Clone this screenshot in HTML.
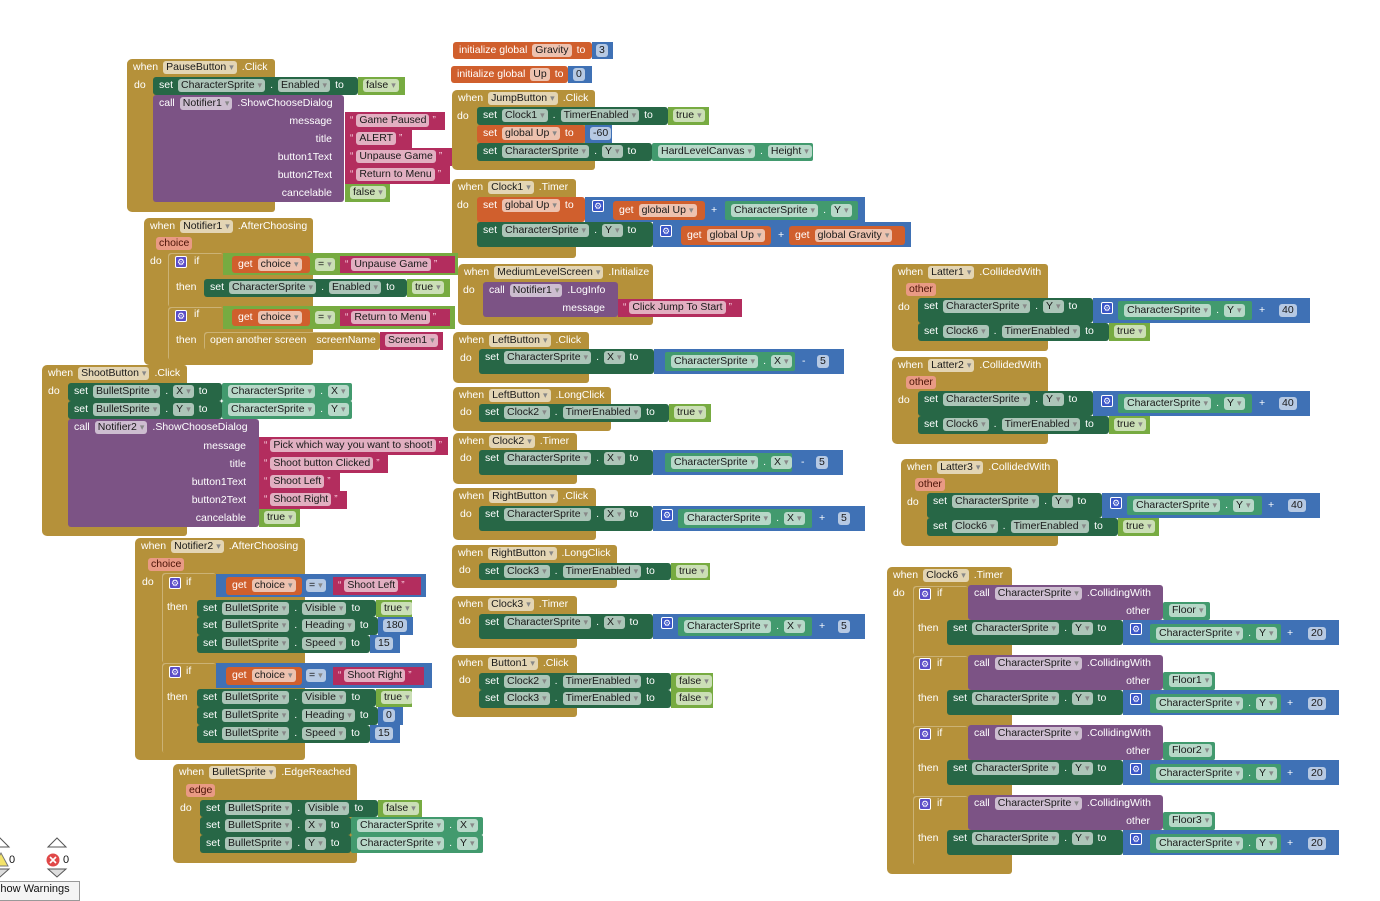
<!DOCTYPE html>
<html><head><meta charset="utf-8">
<style>
body{margin:0;width:1380px;height:892px;position:relative;overflow:hidden;background:#fff;font-family:"Liberation Sans",Arial,sans-serif;font-size:10.5px;color:#fff}
div{position:absolute;box-sizing:border-box}
.k{display:flex;align-items:flex-start;padding:2px 0 0 6px;gap:5px;white-space:nowrap;line-height:13px}
.t{line-height:13px;white-space:nowrap}
.a{text-align:right;line-height:18px;white-space:nowrap}
i{font-style:normal;background:rgba(255,255,255,.62);color:#1a1a1a;border-radius:3px;padding:0 3px;height:13px;line-height:13px;display:inline-block}
i.d::after{content:"\25BE";color:#888;font-size:9px;margin-left:3px}
i.v{background:#e99a84;color:#4a1206}
b{font-weight:normal;color:#f5c9d9;font-size:10px}
.g{background:#b5913a;border-radius:5px 3px 3px 5px}
.S{background:#276746;border-radius:3px}
.C{background:#429a6e;border-radius:2px}
.T{background:#b32d5e;gap:3px;padding-left:5px}
.L{background:#77ab41;padding-left:5px}
.M{background:#3f71b5;padding-left:5px}
.V{background:#d05f2d;border-radius:3px}
.P{background:#7c5385;border-radius:3px}
.C.k{padding-left:6px}
.f{background:#b5913a;border-radius:3px;box-shadow:inset 1px 1px 0 rgba(255,255,255,.3)}
.gr{width:12px;height:12px;border:1px solid #fff;border-radius:2px;background:#3a55c8;color:#fff;font-size:9px;line-height:10px;text-align:center}
.gi{background:#5a4dc8}
</style></head><body>

<!-- PauseButton.Click -->
<div class="g" style="left:127px;top:59px;width:148px;height:153px"></div>
<div class="k" style="left:127px;top:59px;height:18px">when <i class="d">PauseButton</i> .Click</div>
<div class="t" style="left:134px;top:79px">do</div>
<div class="k S" style="left:153px;top:77px;width:205px;height:18px">set <i class="d">CharacterSprite</i> . <i class="d">Enabled</i> to</div>
<div class="k L" style="left:358px;top:77px;width:47px;height:18px"><i class="d">false</i></div>
<div class="P" style="left:153px;top:95px;width:191px;height:107px"></div>
<div class="k" style="left:153px;top:95px;height:18px">call <i class="d">Notifier1</i> .ShowChooseDialog</div>
<div class="a" style="left:153px;top:112px;width:179px">message<br>title<br>button1Text<br>button2Text<br>cancelable</div>
<div class="k T" style="left:345px;top:112px;width:100px;height:18px"><b>“</b><i>Game Paused</i><b>”</b></div>
<div class="k T" style="left:345px;top:130px;width:67px;height:18px"><b>“</b><i>ALERT</i><b>”</b></div>
<div class="k T" style="left:345px;top:148px;width:107px;height:18px"><b>“</b><i>Unpause Game</i><b>”</b></div>
<div class="k T" style="left:345px;top:166px;width:105px;height:18px"><b>“</b><i>Return to Menu</i><b>”</b></div>
<div class="k L" style="left:345px;top:184px;width:45px;height:18px"><i class="d">false</i></div>

<!-- globals -->
<div class="k V" style="left:453px;top:42px;width:139px;height:17px">initialize global <i>Gravity</i> to</div>
<div class="k M" style="left:592px;top:42px;width:21px;height:17px;padding-left:4px"><i>3</i></div>
<div class="k V" style="left:451px;top:66px;width:117px;height:17px">initialize global <i>Up</i> to</div>
<div class="k M" style="left:568px;top:66px;width:24px;height:17px"><i>0</i></div>

<!-- JumpButton.Click -->
<div class="g" style="left:452px;top:90px;width:143px;height:80px"></div>
<div class="k" style="left:452px;top:90px;height:18px">when <i class="d">JumpButton</i> .Click</div>
<div class="t" style="left:457px;top:110px">do</div>
<div class="k S" style="left:477px;top:107px;width:191px;height:18px">set <i class="d">Clock1</i> . <i class="d">TimerEnabled</i> to</div>
<div class="k L" style="left:668px;top:107px;width:41px;height:18px"><i class="d">true</i></div>
<div class="k V" style="left:477px;top:125px;width:108px;height:18px">set <i class="d">global Up</i> to</div>
<div class="k M" style="left:585px;top:125px;width:27px;height:18px"><i>-60</i></div>
<div class="k S" style="left:477px;top:143px;width:175px;height:18px">set <i class="d">CharacterSprite</i> . <i class="d">Y</i> to</div>
<div class="k C" style="left:652px;top:143px;width:161px;height:18px"><i class="d">HardLevelCanvas</i> . <i class="d">Height</i></div>

<!-- Clock1.Timer -->
<div class="g" style="left:452px;top:179px;width:124px;height:79px"></div>
<div class="k" style="left:452px;top:179px;height:18px">when <i class="d">Clock1</i> .Timer</div>
<div class="t" style="left:457px;top:199px">do</div>
<div class="k V" style="left:477px;top:197px;width:108px;height:25px">set <i class="d">global Up</i> to</div>
<div class="M" style="left:585px;top:197px;width:280px;height:25px"></div>
<div class="gr" style="left:592px;top:200px">⚙</div>
<div class="k V" style="left:613px;top:201px;width:92px;height:19px;padding-top:3px">get <i class="d">global Up</i></div>
<div class="t" style="left:711px;top:204px">+</div>
<div class="k C" style="left:725px;top:201px;width:133px;height:19px;padding-top:3px"><i class="d">CharacterSprite</i> . <i class="d">Y</i></div>
<div class="k S" style="left:477px;top:222px;width:176px;height:25px">set <i class="d">CharacterSprite</i> . <i class="d">Y</i> to</div>
<div class="M" style="left:653px;top:222px;width:258px;height:25px"></div>
<div class="gr" style="left:660px;top:225px">⚙</div>
<div class="k V" style="left:681px;top:226px;width:90px;height:19px;padding-top:3px">get <i class="d">global Up</i></div>
<div class="t" style="left:778px;top:229px">+</div>
<div class="k V" style="left:789px;top:226px;width:116px;height:19px;padding-top:3px">get <i class="d">global Gravity</i></div>

<!-- MediumLevelScreen.Initialize -->
<div class="g" style="left:458px;top:264px;width:195px;height:61px"></div>
<div class="k" style="left:458px;top:264px;height:18px">when <i class="d">MediumLevelScreen</i> .Initialize</div>
<div class="t" style="left:463px;top:284px">do</div>
<div class="P" style="left:483px;top:282px;width:135px;height:35px"></div>
<div class="k" style="left:483px;top:282px;height:18px">call <i class="d">Notifier1</i> .LogInfo</div>
<div class="a" style="left:483px;top:299px;width:122px">message</div>
<div class="k T" style="left:618px;top:299px;width:124px;height:18px"><b>“</b><i>Click Jump To Start</i><b>”</b></div>

<!-- LeftButton.Click -->
<div class="g" style="left:453px;top:332px;width:136px;height:51px"></div>
<div class="k" style="left:453px;top:332px;height:17px">when <i class="d">LeftButton</i> .Click</div>
<div class="t" style="left:460px;top:352px">do</div>
<div class="k S" style="left:479px;top:349px;width:175px;height:25px">set <i class="d">CharacterSprite</i> . <i class="d">X</i> to</div>
<div class="M" style="left:654px;top:349px;width:190px;height:25px"></div>
<div class="k C" style="left:665px;top:352px;width:130px;height:19px;padding-top:3px"><i class="d">CharacterSprite</i> . <i class="d">X</i></div>
<div class="t" style="left:802px;top:355px">-</div>
<div class="k" style="left:811px;top:352px;height:19px;padding-top:3px"><i>5</i></div>

<!-- LeftButton.LongClick -->
<div class="g" style="left:453px;top:387px;width:158px;height:44px"></div>
<div class="k" style="left:453px;top:387px;height:17px">when <i class="d">LeftButton</i> .LongClick</div>
<div class="t" style="left:460px;top:406px">do</div>
<div class="k S" style="left:479px;top:404px;width:190px;height:18px">set <i class="d">Clock2</i> . <i class="d">TimerEnabled</i> to</div>
<div class="k L" style="left:669px;top:404px;width:42px;height:18px"><i class="d">true</i></div>

<!-- Clock2.Timer -->
<div class="g" style="left:453px;top:433px;width:124px;height:51px"></div>
<div class="k" style="left:453px;top:433px;height:17px">when <i class="d">Clock2</i> .Timer</div>
<div class="t" style="left:460px;top:452px">do</div>
<div class="k S" style="left:479px;top:450px;width:174px;height:25px">set <i class="d">CharacterSprite</i> . <i class="d">X</i> to</div>
<div class="M" style="left:653px;top:450px;width:190px;height:25px"></div>
<div class="k C" style="left:665px;top:453px;width:127px;height:19px;padding-top:3px"><i class="d">CharacterSprite</i> . <i class="d">X</i></div>
<div class="t" style="left:801px;top:456px">-</div>
<div class="k" style="left:810px;top:453px;height:19px;padding-top:3px"><i>5</i></div>

<!-- RightButton.Click -->
<div class="g" style="left:453px;top:488px;width:143px;height:52px"></div>
<div class="k" style="left:453px;top:488px;height:17px">when <i class="d">RightButton</i> .Click</div>
<div class="t" style="left:460px;top:508px">do</div>
<div class="k S" style="left:479px;top:506px;width:174px;height:25px">set <i class="d">CharacterSprite</i> . <i class="d">X</i> to</div>
<div class="M" style="left:653px;top:506px;width:212px;height:25px"></div>
<div class="gr" style="left:661px;top:509px">⚙</div>
<div class="k C" style="left:678px;top:509px;width:134px;height:19px;padding-top:3px"><i class="d">CharacterSprite</i> . <i class="d">X</i></div>
<div class="t" style="left:819px;top:512px">+</div>
<div class="k" style="left:832px;top:509px;height:19px;padding-top:3px"><i>5</i></div>

<!-- RightButton.LongClick -->
<div class="g" style="left:452px;top:545px;width:165px;height:43px"></div>
<div class="k" style="left:452px;top:545px;height:17px">when <i class="d">RightButton</i> .LongClick</div>
<div class="t" style="left:459px;top:564px">do</div>
<div class="k S" style="left:479px;top:563px;width:192px;height:17px">set <i class="d">Clock3</i> . <i class="d">TimerEnabled</i> to</div>
<div class="k L" style="left:671px;top:563px;width:39px;height:17px"><i class="d">true</i></div>

<!-- Clock3.Timer -->
<div class="g" style="left:452px;top:596px;width:125px;height:52px"></div>
<div class="k" style="left:452px;top:596px;height:17px">when <i class="d">Clock3</i> .Timer</div>
<div class="t" style="left:459px;top:615px">do</div>
<div class="k S" style="left:479px;top:614px;width:174px;height:25px">set <i class="d">CharacterSprite</i> . <i class="d">X</i> to</div>
<div class="M" style="left:653px;top:614px;width:212px;height:25px"></div>
<div class="gr" style="left:661px;top:617px">⚙</div>
<div class="k C" style="left:678px;top:617px;width:134px;height:19px;padding-top:3px"><i class="d">CharacterSprite</i> . <i class="d">X</i></div>
<div class="t" style="left:819px;top:620px">+</div>
<div class="k" style="left:832px;top:617px;height:19px;padding-top:3px"><i>5</i></div>

<!-- Button1.Click -->
<div class="g" style="left:452px;top:655px;width:125px;height:62px"></div>
<div class="k" style="left:452px;top:655px;height:18px">when <i class="d">Button1</i> .Click</div>
<div class="t" style="left:459px;top:674px">do</div>
<div class="k S" style="left:479px;top:673px;width:192px;height:17px">set <i class="d">Clock2</i> . <i class="d">TimerEnabled</i> to</div>
<div class="k L" style="left:671px;top:673px;width:42px;height:17px"><i class="d">false</i></div>
<div class="k S" style="left:479px;top:690px;width:192px;height:18px">set <i class="d">Clock3</i> . <i class="d">TimerEnabled</i> to</div>
<div class="k L" style="left:671px;top:690px;width:42px;height:18px"><i class="d">false</i></div>

<!-- Notifier1.AfterChoosing -->
<div class="g" style="left:144px;top:218px;width:169px;height:147px"></div>
<div class="k" style="left:144px;top:218px;height:18px">when <i class="d">Notifier1</i> .AfterChoosing</div>
<div class="k" style="left:150px;top:235px;height:17px"><i class="v">choice</i></div>
<div class="t" style="left:150px;top:255px">do</div>
<div class="f" style="left:168px;top:253px;width:55px;height:54px"></div>
<div class="gr gi" style="left:175px;top:256px">⚙</div>
<div class="t" style="left:194px;top:255px">if</div>
<div class="t" style="left:176px;top:281px">then</div>
<div class="L" style="left:223px;top:253px;width:235px;height:22px"></div>
<div class="k V" style="left:232px;top:256px;width:78px;height:17px">get <i class="d">choice</i></div>
<div class="k" style="left:309px;top:256px;height:17px"><i class="d">=</i></div>
<div class="k T" style="left:340px;top:256px;width:115px;height:17px"><b>“</b><i>Unpause Game</i><b>”</b></div>
<div class="k S" style="left:204px;top:279px;width:203px;height:18px">set <i class="d">CharacterSprite</i> . <i class="d">Enabled</i> to</div>
<div class="k L" style="left:407px;top:279px;width:43px;height:18px"><i class="d">true</i></div>
<div class="f" style="left:168px;top:307px;width:55px;height:53px"></div>
<div class="gr gi" style="left:175px;top:310px">⚙</div>
<div class="t" style="left:194px;top:308px">if</div>
<div class="t" style="left:176px;top:334px">then</div>
<div class="L" style="left:223px;top:306px;width:232px;height:23px"></div>
<div class="k V" style="left:232px;top:309px;width:78px;height:17px">get <i class="d">choice</i></div>
<div class="k" style="left:309px;top:309px;height:17px"><i class="d">=</i></div>
<div class="k T" style="left:340px;top:309px;width:110px;height:17px"><b>“</b><i>Return to Menu</i><b>”</b></div>
<div class="k f" style="left:204px;top:332px;width:176px;height:18px;gap:10px">open another screen <span>screenName</span></div>
<div class="k T" style="left:380px;top:332px;width:63px;height:18px"><i class="d">Screen1</i></div>

<!-- ShootButton.Click -->
<div class="g" style="left:42px;top:365px;width:145px;height:171px"></div>
<div class="k" style="left:42px;top:365px;height:18px">when <i class="d">ShootButton</i> .Click</div>
<div class="t" style="left:48px;top:385px">do</div>
<div class="k S" style="left:68px;top:383px;width:154px;height:18px">set <i class="d">BulletSprite</i> . <i class="d">X</i> to</div>
<div class="k C" style="left:222px;top:383px;width:130px;height:18px"><i class="d">CharacterSprite</i> . <i class="d">X</i></div>
<div class="k S" style="left:68px;top:401px;width:154px;height:18px">set <i class="d">BulletSprite</i> . <i class="d">Y</i> to</div>
<div class="k C" style="left:222px;top:401px;width:130px;height:18px"><i class="d">CharacterSprite</i> . <i class="d">Y</i></div>
<div class="P" style="left:68px;top:419px;width:191px;height:108px"></div>
<div class="k" style="left:68px;top:419px;height:18px">call <i class="d">Notifier2</i> .ShowChooseDialog</div>
<div class="a" style="left:68px;top:437px;width:178px">message<br>title<br>button1Text<br>button2Text<br>cancelable</div>
<div class="k T" style="left:259px;top:437px;width:189px;height:18px"><b>“</b><i>Pick which way you want to shoot!</i><b>”</b></div>
<div class="k T" style="left:259px;top:455px;width:129px;height:18px"><b>“</b><i>Shoot button Clicked</i><b>”</b></div>
<div class="k T" style="left:259px;top:473px;width:81px;height:18px"><b>“</b><i>Shoot Left</i><b>”</b></div>
<div class="k T" style="left:259px;top:491px;width:88px;height:18px"><b>“</b><i>Shoot Right</i><b>”</b></div>
<div class="k L" style="left:259px;top:509px;width:41px;height:18px"><i class="d">true</i></div>

<!-- Notifier2.AfterChoosing -->
<div class="g" style="left:135px;top:538px;width:170px;height:222px"></div>
<div class="k" style="left:135px;top:538px;height:18px">when <i class="d">Notifier2</i> .AfterChoosing</div>
<div class="k" style="left:142px;top:556px;height:17px"><i class="v">choice</i></div>
<div class="t" style="left:142px;top:576px">do</div>
<div class="f" style="left:162px;top:573px;width:54px;height:90px"></div>
<div class="gr gi" style="left:169px;top:577px">⚙</div>
<div class="t" style="left:186px;top:576px">if</div>
<div class="t" style="left:167px;top:601px">then</div>
<div class="M" style="left:216px;top:574px;width:210px;height:23px"></div>
<div class="k V" style="left:226px;top:577px;width:76px;height:18px">get <i class="d">choice</i></div>
<div class="k" style="left:300px;top:577px;height:18px"><i class="d">=</i></div>
<div class="k T" style="left:333px;top:577px;width:88px;height:18px"><b>“</b><i>Shoot Left</i><b>”</b></div>
<div class="k S" style="left:197px;top:600px;width:179px;height:17px">set <i class="d">BulletSprite</i> . <i class="d">Visible</i> to</div>
<div class="k L" style="left:376px;top:600px;width:36px;height:17px"><i class="d">true</i></div>
<div class="k S" style="left:197px;top:617px;width:181px;height:18px">set <i class="d">BulletSprite</i> . <i class="d">Heading</i> to</div>
<div class="k M" style="left:378px;top:617px;width:35px;height:18px"><i>180</i></div>
<div class="k S" style="left:197px;top:635px;width:173px;height:18px">set <i class="d">BulletSprite</i> . <i class="d">Speed</i> to</div>
<div class="k M" style="left:370px;top:635px;width:30px;height:18px"><i>15</i></div>
<div class="f" style="left:162px;top:663px;width:54px;height:90px"></div>
<div class="gr gi" style="left:169px;top:666px">⚙</div>
<div class="t" style="left:186px;top:665px">if</div>
<div class="t" style="left:167px;top:691px">then</div>
<div class="M" style="left:216px;top:663px;width:216px;height:25px"></div>
<div class="k V" style="left:226px;top:667px;width:76px;height:18px">get <i class="d">choice</i></div>
<div class="k" style="left:300px;top:667px;height:18px"><i class="d">=</i></div>
<div class="k T" style="left:333px;top:667px;width:91px;height:18px"><b>“</b><i>Shoot Right</i><b>”</b></div>
<div class="k S" style="left:197px;top:689px;width:179px;height:18px">set <i class="d">BulletSprite</i> . <i class="d">Visible</i> to</div>
<div class="k L" style="left:376px;top:689px;width:36px;height:18px"><i class="d">true</i></div>
<div class="k S" style="left:197px;top:707px;width:181px;height:18px">set <i class="d">BulletSprite</i> . <i class="d">Heading</i> to</div>
<div class="k M" style="left:378px;top:707px;width:25px;height:18px"><i>0</i></div>
<div class="k S" style="left:197px;top:725px;width:173px;height:18px">set <i class="d">BulletSprite</i> . <i class="d">Speed</i> to</div>
<div class="k M" style="left:370px;top:725px;width:30px;height:18px"><i>15</i></div>

<!-- BulletSprite.EdgeReached -->
<div class="g" style="left:173px;top:764px;width:184px;height:99px"></div>
<div class="k" style="left:173px;top:764px;height:18px">when <i class="d">BulletSprite</i> .EdgeReached</div>
<div class="k" style="left:180px;top:782px;height:17px"><i class="v">edge</i></div>
<div class="t" style="left:180px;top:802px">do</div>
<div class="k S" style="left:200px;top:800px;width:178px;height:17px">set <i class="d">BulletSprite</i> . <i class="d">Visible</i> to</div>
<div class="k L" style="left:378px;top:800px;width:44px;height:17px"><i class="d">false</i></div>
<div class="k S" style="left:200px;top:817px;width:151px;height:18px">set <i class="d">BulletSprite</i> . <i class="d">X</i> to</div>
<div class="k C" style="left:351px;top:817px;width:132px;height:18px"><i class="d">CharacterSprite</i> . <i class="d">X</i></div>
<div class="k S" style="left:200px;top:835px;width:151px;height:18px">set <i class="d">BulletSprite</i> . <i class="d">Y</i> to</div>
<div class="k C" style="left:351px;top:835px;width:132px;height:18px"><i class="d">CharacterSprite</i> . <i class="d">Y</i></div>

<!-- Latter1 -->
<div class="g" style="left:892px;top:264px;width:156px;height:87px"></div>
<div class="k" style="left:892px;top:264px;height:18px">when <i class="d">Latter1</i> .CollidedWith</div>
<div class="k" style="left:900px;top:281px;height:17px"><i class="v">other</i></div>
<div class="t" style="left:898px;top:301px">do</div>
<div class="k S" style="left:918px;top:298px;width:175px;height:25px">set <i class="d">CharacterSprite</i> . <i class="d">Y</i> to</div>
<div class="M" style="left:1093px;top:298px;width:217px;height:25px"></div>
<div class="gr" style="left:1101px;top:302px">⚙</div>
<div class="k C" style="left:1118px;top:301px;width:134px;height:19px;padding-top:3px"><i class="d">CharacterSprite</i> . <i class="d">Y</i></div>
<div class="t" style="left:1259px;top:304px">+</div>
<div class="k" style="left:1273px;top:301px;height:19px;padding-top:3px"><i>40</i></div>
<div class="k S" style="left:918px;top:323px;width:191px;height:18px">set <i class="d">Clock6</i> . <i class="d">TimerEnabled</i> to</div>
<div class="k L" style="left:1109px;top:323px;width:41px;height:18px"><i class="d">true</i></div>

<!-- Latter2 -->
<div class="g" style="left:892px;top:357px;width:156px;height:87px"></div>
<div class="k" style="left:892px;top:357px;height:18px">when <i class="d">Latter2</i> .CollidedWith</div>
<div class="k" style="left:900px;top:374px;height:17px"><i class="v">other</i></div>
<div class="t" style="left:898px;top:394px">do</div>
<div class="k S" style="left:918px;top:391px;width:175px;height:25px">set <i class="d">CharacterSprite</i> . <i class="d">Y</i> to</div>
<div class="M" style="left:1093px;top:391px;width:217px;height:25px"></div>
<div class="gr" style="left:1101px;top:395px">⚙</div>
<div class="k C" style="left:1118px;top:394px;width:134px;height:19px;padding-top:3px"><i class="d">CharacterSprite</i> . <i class="d">Y</i></div>
<div class="t" style="left:1259px;top:397px">+</div>
<div class="k" style="left:1273px;top:394px;height:19px;padding-top:3px"><i>40</i></div>
<div class="k S" style="left:918px;top:416px;width:191px;height:18px">set <i class="d">Clock6</i> . <i class="d">TimerEnabled</i> to</div>
<div class="k L" style="left:1109px;top:416px;width:41px;height:18px"><i class="d">true</i></div>

<!-- Latter3 -->
<div class="g" style="left:901px;top:459px;width:157px;height:87px"></div>
<div class="k" style="left:901px;top:459px;height:18px">when <i class="d">Latter3</i> .CollidedWith</div>
<div class="k" style="left:909px;top:476px;height:17px"><i class="v">other</i></div>
<div class="t" style="left:907px;top:496px">do</div>
<div class="k S" style="left:927px;top:493px;width:175px;height:25px">set <i class="d">CharacterSprite</i> . <i class="d">Y</i> to</div>
<div class="M" style="left:1102px;top:493px;width:218px;height:25px"></div>
<div class="gr" style="left:1110px;top:497px">⚙</div>
<div class="k C" style="left:1127px;top:496px;width:135px;height:19px;padding-top:3px"><i class="d">CharacterSprite</i> . <i class="d">Y</i></div>
<div class="t" style="left:1268px;top:499px">+</div>
<div class="k" style="left:1282px;top:496px;height:19px;padding-top:3px"><i>40</i></div>
<div class="k S" style="left:927px;top:518px;width:191px;height:18px">set <i class="d">Clock6</i> . <i class="d">TimerEnabled</i> to</div>
<div class="k L" style="left:1118px;top:518px;width:41px;height:18px"><i class="d">true</i></div>

<!-- Clock6.Timer -->
<div class="g" style="left:887px;top:567px;width:125px;height:307px"></div>
<div class="k" style="left:887px;top:567px;height:18px">when <i class="d">Clock6</i> .Timer</div>
<div class="t" style="left:893px;top:587px">do</div>

<div class="f" style="left:913px;top:586px;width:55px;height:69px"></div>
<div class="gr gi" style="left:919px;top:588px">⚙</div>
<div class="t" style="left:937px;top:587px">if</div>
<div class="t" style="left:918px;top:622px">then</div>
<div class="P" style="left:968px;top:585px;width:195px;height:35px"></div>
<div class="k" style="left:968px;top:585px;height:18px">call <i class="d">CharacterSprite</i> .CollidingWith</div>
<div class="a" style="left:968px;top:602px;width:182px">other</div>
<div class="k C" style="left:1163px;top:602px;width:47px;height:18px"><i class="d">Floor</i></div>
<div class="k S" style="left:947px;top:620px;width:176px;height:25px">set <i class="d">CharacterSprite</i> . <i class="d">Y</i> to</div>
<div class="M" style="left:1123px;top:620px;width:216px;height:25px"></div>
<div class="gr" style="left:1130px;top:623px">⚙</div>
<div class="k C" style="left:1150px;top:624px;width:131px;height:19px;padding-top:3px"><i class="d">CharacterSprite</i> . <i class="d">Y</i></div>
<div class="t" style="left:1287px;top:627px">+</div>
<div class="k" style="left:1302px;top:624px;height:19px;padding-top:3px"><i>20</i></div>

<div class="f" style="left:913px;top:656px;width:55px;height:69px"></div>
<div class="gr gi" style="left:919px;top:658px">⚙</div>
<div class="t" style="left:937px;top:657px">if</div>
<div class="t" style="left:918px;top:692px">then</div>
<div class="P" style="left:968px;top:655px;width:195px;height:35px"></div>
<div class="k" style="left:968px;top:655px;height:18px">call <i class="d">CharacterSprite</i> .CollidingWith</div>
<div class="a" style="left:968px;top:672px;width:182px">other</div>
<div class="k C" style="left:1163px;top:672px;width:52px;height:18px"><i class="d">Floor1</i></div>
<div class="k S" style="left:947px;top:690px;width:176px;height:25px">set <i class="d">CharacterSprite</i> . <i class="d">Y</i> to</div>
<div class="M" style="left:1123px;top:690px;width:216px;height:25px"></div>
<div class="gr" style="left:1130px;top:693px">⚙</div>
<div class="k C" style="left:1150px;top:694px;width:131px;height:19px;padding-top:3px"><i class="d">CharacterSprite</i> . <i class="d">Y</i></div>
<div class="t" style="left:1287px;top:697px">+</div>
<div class="k" style="left:1302px;top:694px;height:19px;padding-top:3px"><i>20</i></div>

<div class="f" style="left:913px;top:726px;width:55px;height:69px"></div>
<div class="gr gi" style="left:919px;top:728px">⚙</div>
<div class="t" style="left:937px;top:727px">if</div>
<div class="t" style="left:918px;top:762px">then</div>
<div class="P" style="left:968px;top:725px;width:195px;height:35px"></div>
<div class="k" style="left:968px;top:725px;height:18px">call <i class="d">CharacterSprite</i> .CollidingWith</div>
<div class="a" style="left:968px;top:742px;width:182px">other</div>
<div class="k C" style="left:1163px;top:742px;width:52px;height:18px"><i class="d">Floor2</i></div>
<div class="k S" style="left:947px;top:760px;width:176px;height:25px">set <i class="d">CharacterSprite</i> . <i class="d">Y</i> to</div>
<div class="M" style="left:1123px;top:760px;width:216px;height:25px"></div>
<div class="gr" style="left:1130px;top:763px">⚙</div>
<div class="k C" style="left:1150px;top:764px;width:131px;height:19px;padding-top:3px"><i class="d">CharacterSprite</i> . <i class="d">Y</i></div>
<div class="t" style="left:1287px;top:767px">+</div>
<div class="k" style="left:1302px;top:764px;height:19px;padding-top:3px"><i>20</i></div>

<div class="f" style="left:913px;top:796px;width:55px;height:69px"></div>
<div class="gr gi" style="left:919px;top:798px">⚙</div>
<div class="t" style="left:937px;top:797px">if</div>
<div class="t" style="left:918px;top:832px">then</div>
<div class="P" style="left:968px;top:795px;width:195px;height:35px"></div>
<div class="k" style="left:968px;top:795px;height:18px">call <i class="d">CharacterSprite</i> .CollidingWith</div>
<div class="a" style="left:968px;top:812px;width:182px">other</div>
<div class="k C" style="left:1163px;top:812px;width:52px;height:18px"><i class="d">Floor3</i></div>
<div class="k S" style="left:947px;top:830px;width:176px;height:25px">set <i class="d">CharacterSprite</i> . <i class="d">Y</i> to</div>
<div class="M" style="left:1123px;top:830px;width:216px;height:25px"></div>
<div class="gr" style="left:1130px;top:833px">⚙</div>
<div class="k C" style="left:1150px;top:834px;width:131px;height:19px;padding-top:3px"><i class="d">CharacterSprite</i> . <i class="d">Y</i></div>
<div class="t" style="left:1287px;top:837px">+</div>
<div class="k" style="left:1302px;top:834px;height:19px;padding-top:3px"><i>20</i></div>

<!-- warnings widget -->
<svg style="position:absolute;left:0;top:834px" width="90" height="58">
<polygon points="-9,13 0,4 9,13" fill="none" stroke="#555" stroke-width="1"/>
<polygon points="48,13 57,4 66,13" fill="none" stroke="#555" stroke-width="1"/>
<polygon points="-6,32 1,19 8,32" fill="#f3e36a" stroke="#777" stroke-width="1"/>
<circle cx="53" cy="26" r="6.5" fill="#e04848"/>
<path d="M50,23 L56,29 M56,23 L50,29" stroke="#fff" stroke-width="1.6"/>
<polygon points="-9,35 0,43 9,35" fill="#ddd" stroke="#555" stroke-width="1"/>
<polygon points="48,35 57,43 66,35" fill="#ddd" stroke="#555" stroke-width="1"/>
</svg>
<div style="left:9px;top:854px;color:#111;font-size:11px;line-height:12px">0</div>
<div style="left:63px;top:854px;color:#111;font-size:11px;line-height:12px">0</div>
<div style="left:-12px;top:881px;width:92px;height:20px;border:1px solid #999;background:#f4f4f4;color:#111;font-size:11px;line-height:14px;padding-left:4px;white-space:nowrap">Show Warnings</div>

</body></html>
